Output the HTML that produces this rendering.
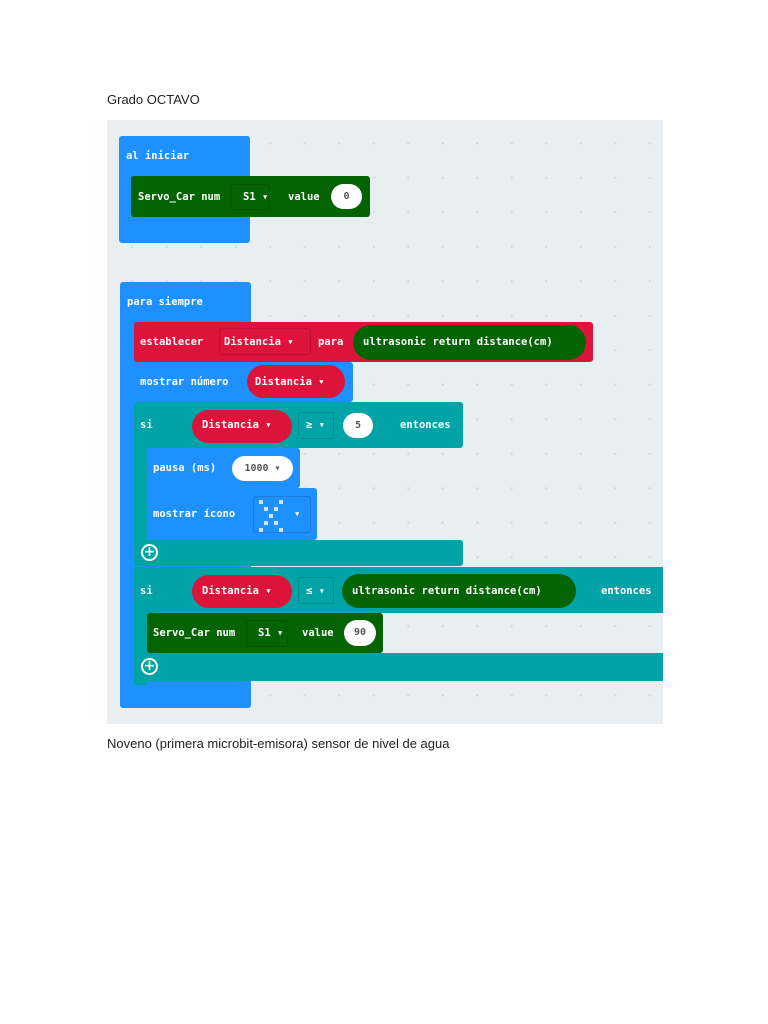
<!DOCTYPE html>
<html><head><meta charset="utf-8"><style>
*{margin:0;padding:0;box-sizing:border-box}
body{width:768px;height:1024px;background:#fff;position:relative;font-family:"Liberation Sans",sans-serif;overflow:hidden}
.t{position:absolute;font-size:13px;color:#222}
#cv{position:absolute;left:107px;top:120px;width:556px;height:604px;background:#e9eef0;overflow:hidden;
background-image:radial-gradient(circle,#d6dadc 1px,transparent 1.3px);background-size:34.5px 34.5px;background-position:8px 6px}
.b{position:absolute}
.l{position:absolute;font-family:"DejaVu Sans Mono",monospace;font-weight:bold;font-size:10.5px;color:#fff;white-space:nowrap;line-height:14px}
.blue{background:#1e90ff;border-radius:3px}
.green{background:#046404;border-radius:3px}
.red{background:#dc143c;border-radius:3px}
.teal{background:#00a4a6;border-radius:3px}
.pill{position:absolute;border-radius:20px}
.dd{position:absolute;border:1px solid rgba(0,0,0,.15);border-radius:3px}
.wo{position:absolute;background:#fff;border-radius:14px;color:#555;font-family:"DejaVu Sans Mono",monospace;font-weight:bold;font-size:10px;text-align:center}
.plus{position:absolute;width:17px;height:17px;border:2px solid #fff;border-radius:50%;color:#fff;font:bold 14px/13px "DejaVu Sans",sans-serif;text-align:center}
.px{position:absolute;width:4px;height:4px;background:#cfe6ff}
</style></head><body>
<div class="t" style="left:107px;top:92px">Grado OCTAVO</div>
<div id="cv">
 <div class="b blue" style="left:12px;top:16px;width:131px;height:107px"></div>
 <div class="l" style="left:19px;top:29px">al iniciar</div>
 <div class="b green" style="left:24px;top:56px;width:239px;height:41px"></div>
 <div class="l" style="left:31px;top:70px">Servo_Car num</div>
 <div class="dd" style="left:123px;top:64px;width:40px;height:26px"></div>
 <div class="l" style="left:136px;top:70px">S1 ▾</div>
 <div class="l" style="left:181px;top:70px">value</div>
 <div class="wo" style="left:224px;top:64px;width:31px;height:25px;line-height:25px">0</div>

 <div class="b blue" style="left:13px;top:162px;width:131px;height:426px"></div>
 <div class="l" style="left:20px;top:175px">para siempre</div>
 <div class="b red" style="left:27px;top:202px;width:459px;height:40px"></div>
 <div class="l" style="left:33px;top:215px">establecer</div>
 <div class="dd" style="left:112px;top:208px;width:92px;height:27px"></div>
 <div class="l" style="left:117px;top:215px">Distancia ▾</div>
 <div class="l" style="left:211px;top:215px">para</div>
 <div class="pill green" style="left:246px;top:205px;width:233px;height:35px;border-radius:18px"></div>
 <div class="l" style="left:256px;top:215px">ultrasonic return distance(cm)</div>

 <div class="b blue" style="left:27px;top:242px;width:219px;height:40px"></div>
 <div class="l" style="left:33px;top:255px">mostrar número</div>
 <div class="pill red" style="left:140px;top:245px;width:98px;height:33px;border-radius:17px"></div>
 <div class="l" style="left:148px;top:255px">Distancia ▾</div>

 <div class="b teal" style="left:27px;top:282px;width:329px;height:46px"></div>
 <div class="b teal" style="left:27px;top:320px;width:13px;height:126px;border-radius:0"></div>
 <div class="b teal" style="left:27px;top:420px;width:329px;height:26px"></div>
 <div class="l" style="left:33px;top:298px">si</div>
 <div class="pill red" style="left:85px;top:290px;width:100px;height:33px;border-radius:17px"></div>
 <div class="l" style="left:95px;top:298px">Distancia ▾</div>
 <div class="dd" style="left:191px;top:292px;width:36px;height:27px"></div>
 <div class="l" style="left:199px;top:298px">≥ ▾</div>
 <div class="wo" style="left:236px;top:293px;width:30px;height:25px;line-height:25px">5</div>
 <div class="l" style="left:293px;top:298px">entonces</div>
 <div class="b blue" style="left:40px;top:328px;width:153px;height:40px"></div>
 <div class="l" style="left:46px;top:341px">pausa (ms)</div>
 <div class="wo" style="left:125px;top:336px;width:61px;height:25px;line-height:25px">1000 ▾</div>
 <div class="b blue" style="left:40px;top:368px;width:170px;height:52px"></div>
 <div class="l" style="left:46px;top:387px">mostrar ícono</div>
 <div class="dd" style="left:146px;top:376px;width:58px;height:37px"></div>
 <div class="px" style="left:152px;top:380px"></div><div class="px" style="left:172px;top:380px"></div>
 <div class="px" style="left:157px;top:387px"></div><div class="px" style="left:167px;top:387px"></div>
 <div class="px" style="left:162px;top:394px"></div>
 <div class="px" style="left:157px;top:401px"></div><div class="px" style="left:167px;top:401px"></div>
 <div class="px" style="left:152px;top:408px"></div><div class="px" style="left:172px;top:408px"></div>
 <div class="l" style="left:187px;top:387px">▾</div>
 <div class="plus" style="left:34px;top:424px">+</div>

 <div class="b teal" style="left:27px;top:447px;width:540px;height:46px"></div>
 <div class="b teal" style="left:27px;top:490px;width:13px;height:75px;border-radius:0"></div>
 <div class="b teal" style="left:27px;top:533px;width:540px;height:28px"></div>
 <div class="l" style="left:33px;top:464px">si</div>
 <div class="pill red" style="left:85px;top:455px;width:100px;height:33px;border-radius:17px"></div>
 <div class="l" style="left:95px;top:464px">Distancia ▾</div>
 <div class="dd" style="left:191px;top:457px;width:36px;height:27px"></div>
 <div class="l" style="left:199px;top:464px">≤ ▾</div>
 <div class="pill green" style="left:235px;top:454px;width:234px;height:34px;border-radius:17px"></div>
 <div class="l" style="left:245px;top:464px">ultrasonic return distance(cm)</div>
 <div class="l" style="left:494px;top:464px">entonces</div>
 <div class="b green" style="left:40px;top:493px;width:236px;height:40px"></div>
 <div class="l" style="left:46px;top:506px">Servo_Car num</div>
 <div class="dd" style="left:139px;top:500px;width:42px;height:27px"></div>
 <div class="l" style="left:151px;top:506px">S1 ▾</div>
 <div class="l" style="left:195px;top:506px">value</div>
 <div class="wo" style="left:237px;top:500px;width:32px;height:26px;line-height:26px">90</div>
 <div class="plus" style="left:34px;top:538px">+</div>
</div>
<div class="t" style="left:107px;top:736px">Noveno (primera microbit-emisora) sensor de nivel de agua</div>
</body></html>
